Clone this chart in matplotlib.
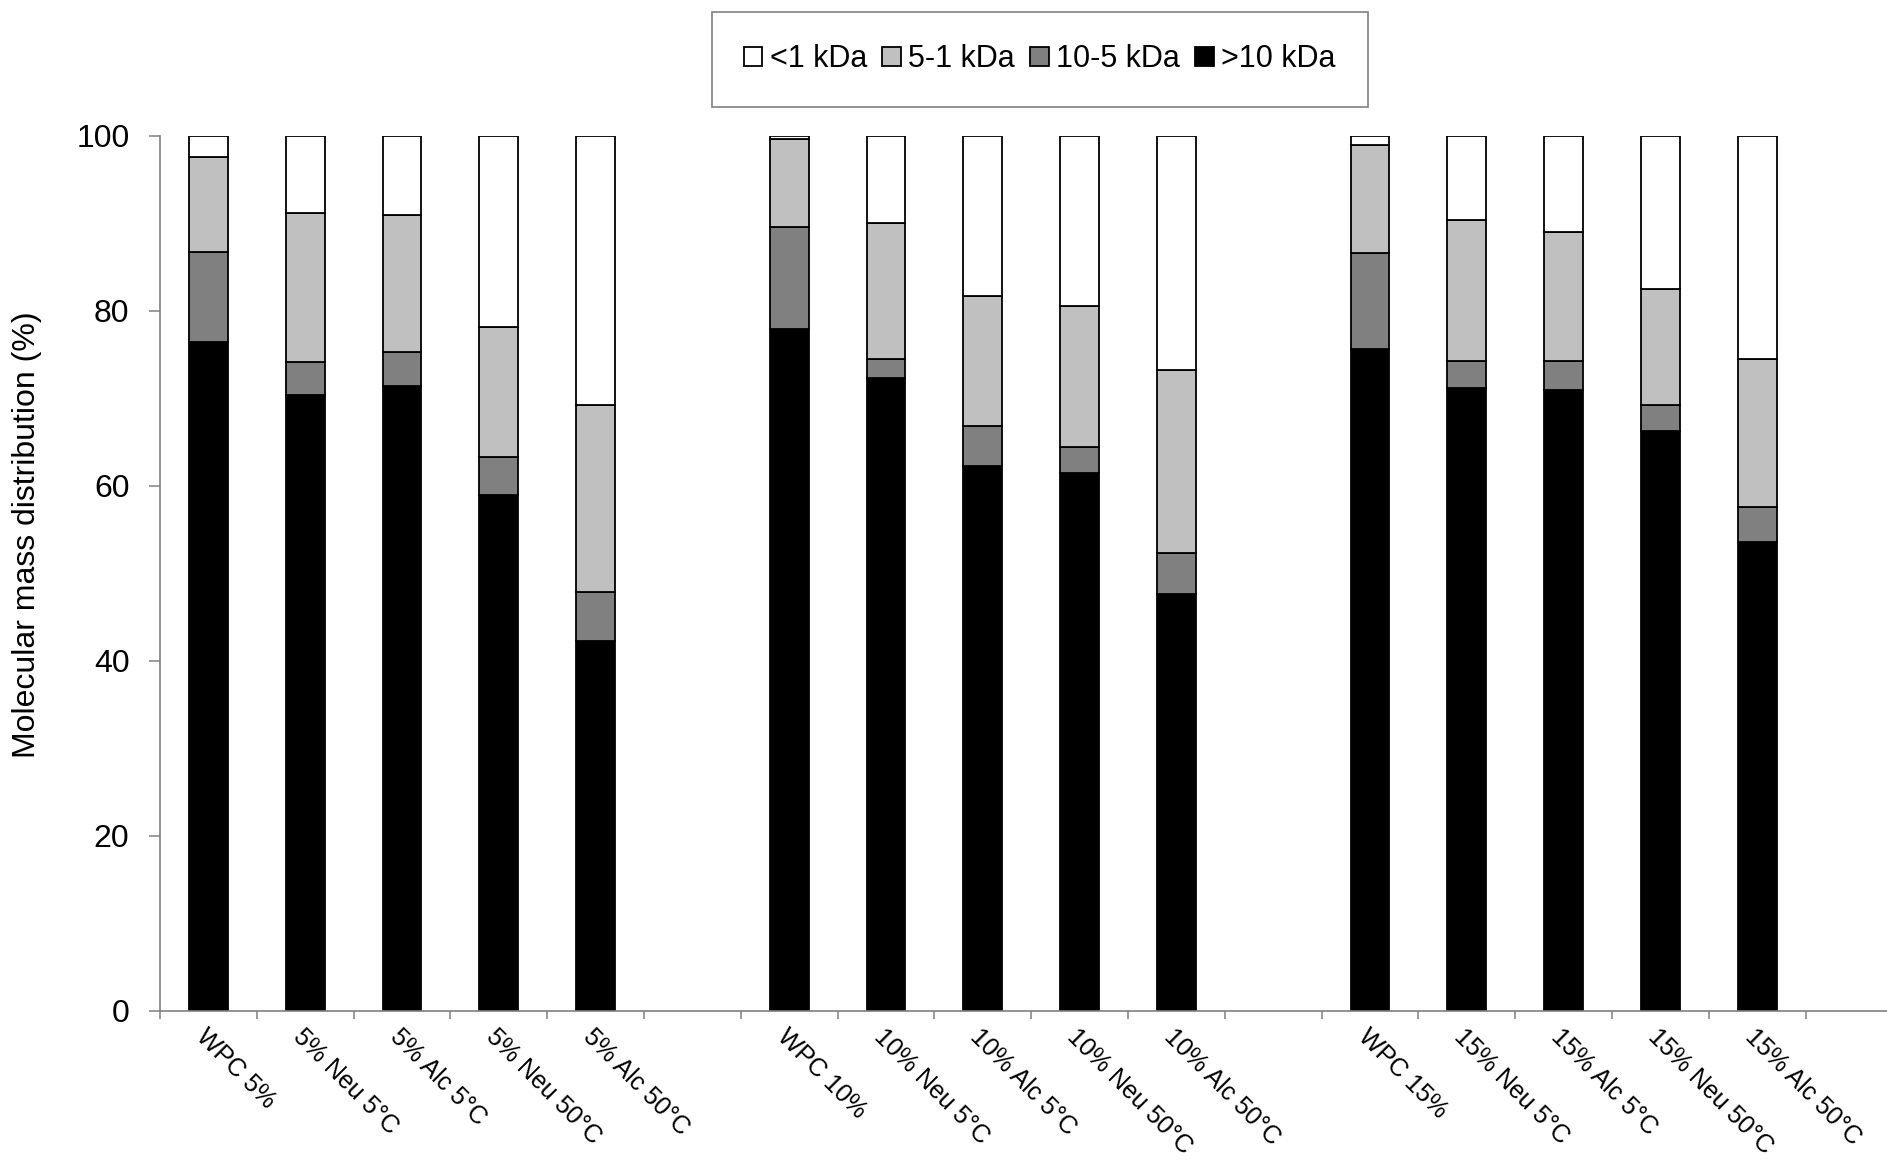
import matplotlib
matplotlib.use('Agg')
import matplotlib.pyplot as plt
import numpy as np

plt.rcParams['font.family'] = ['Liberation Sans', 'DejaVu Sans']

labels = ['WPC 5%', '5% Neu 5°C', '5% Alc 5°C', '5% Neu 50°C', '5% Alc 50°C',
          'WPC 10%', '10% Neu 5°C', '10% Alc 5°C', '10% Neu 50°C', '10% Alc 50°C',
          'WPC 15%', '15% Neu 5°C', '15% Alc 5°C', '15% Neu 50°C', '15% Alc 50°C']

# stacked fractions (%), bottom to top
gt10 = [76.4, 70.4, 71.4, 59.0, 42.3, 77.9, 72.3, 62.3, 61.5, 47.7, 75.7, 71.2, 71.0, 66.3, 53.6]
k10_5 = [10.3, 3.8, 3.9, 4.3, 5.6, 11.7, 2.2, 4.5, 3.0, 4.6, 10.9, 3.1, 3.3, 2.9, 4.0]
k5_1 = [10.9, 17.0, 15.7, 14.9, 21.4, 10.0, 15.5, 14.9, 16.1, 21.0, 12.4, 16.1, 14.7, 13.3, 16.9]
lt1 = [2.4, 8.8, 9.0, 21.8, 30.7, 0.4, 10.0, 18.3, 19.4, 26.7, 1.0, 9.6, 11.0, 17.5, 25.5]

series = [('>10 kDa', gt10, 'black'),
          ('10-5 kDa', k10_5, '#808080'),
          ('5-1 kDa', k5_1, '#c0c0c0'),
          ('<1 kDa', lt1, 'white')]

# 3 groups of 5 bars, one empty slot after each group
pos = np.array([g * 6 + i + 0.5 for g in range(3) for i in range(5)])

fig = plt.figure(figsize=(18.87, 11.61), dpi=100)
ax = fig.add_axes([0.0848, 0.1292, 0.9234, 0.7537])

bottom = np.zeros(len(pos))
handles = {}
for name, vals, col in series:
    vals = np.array(vals)
    b = ax.bar(pos, vals, 0.4, bottom=bottom, color=col, edgecolor='black',
               linewidth=1.3, label=name)
    handles[name] = b
    bottom += vals

ax.set_xlim(0, 18)
ax.set_ylim(0, 100)
ax.set_yticks([0, 20, 40, 60, 80, 100])
ax.tick_params(axis='y', labelsize=23, length=8, width=1.1, color='#808080', pad=14)

ax.set_xticks(pos)
ax.set_xticklabels(labels, rotation=-45, ha='left', rotation_mode='anchor', fontsize=18)
ax.tick_params(axis='x', which='major', length=0, pad=10)
ax.set_xticks(np.arange(0, 19), minor=True)
ax.tick_params(axis='x', which='minor', length=6, width=1.1, color='#808080')

for s in ['top', 'right']:
    ax.spines[s].set_visible(False)
for s in ['left', 'bottom']:
    ax.spines[s].set_color('#808080')
    ax.spines[s].set_linewidth(1.2)

ax.set_ylabel('Molecular mass distribution (%)', fontsize=23)
ax.yaxis.set_label_coords(-0.068, 0.544)

order = ['<1 kDa', '5-1 kDa', '10-5 kDa', '>10 kDa']
leg = fig.legend([handles[n] for n in order], order, loc='center',
                 bbox_to_anchor=(0.551, 0.9488), ncol=4, fontsize=22,
                 handlelength=0.6, handleheight=0.6, handletextpad=0.25,
                 columnspacing=0.5, borderpad=1.05, fancybox=False,
                 edgecolor='#808080', framealpha=1)
leg.get_frame().set_linewidth(1.2)

fig.savefig('out.png', dpi=100)
